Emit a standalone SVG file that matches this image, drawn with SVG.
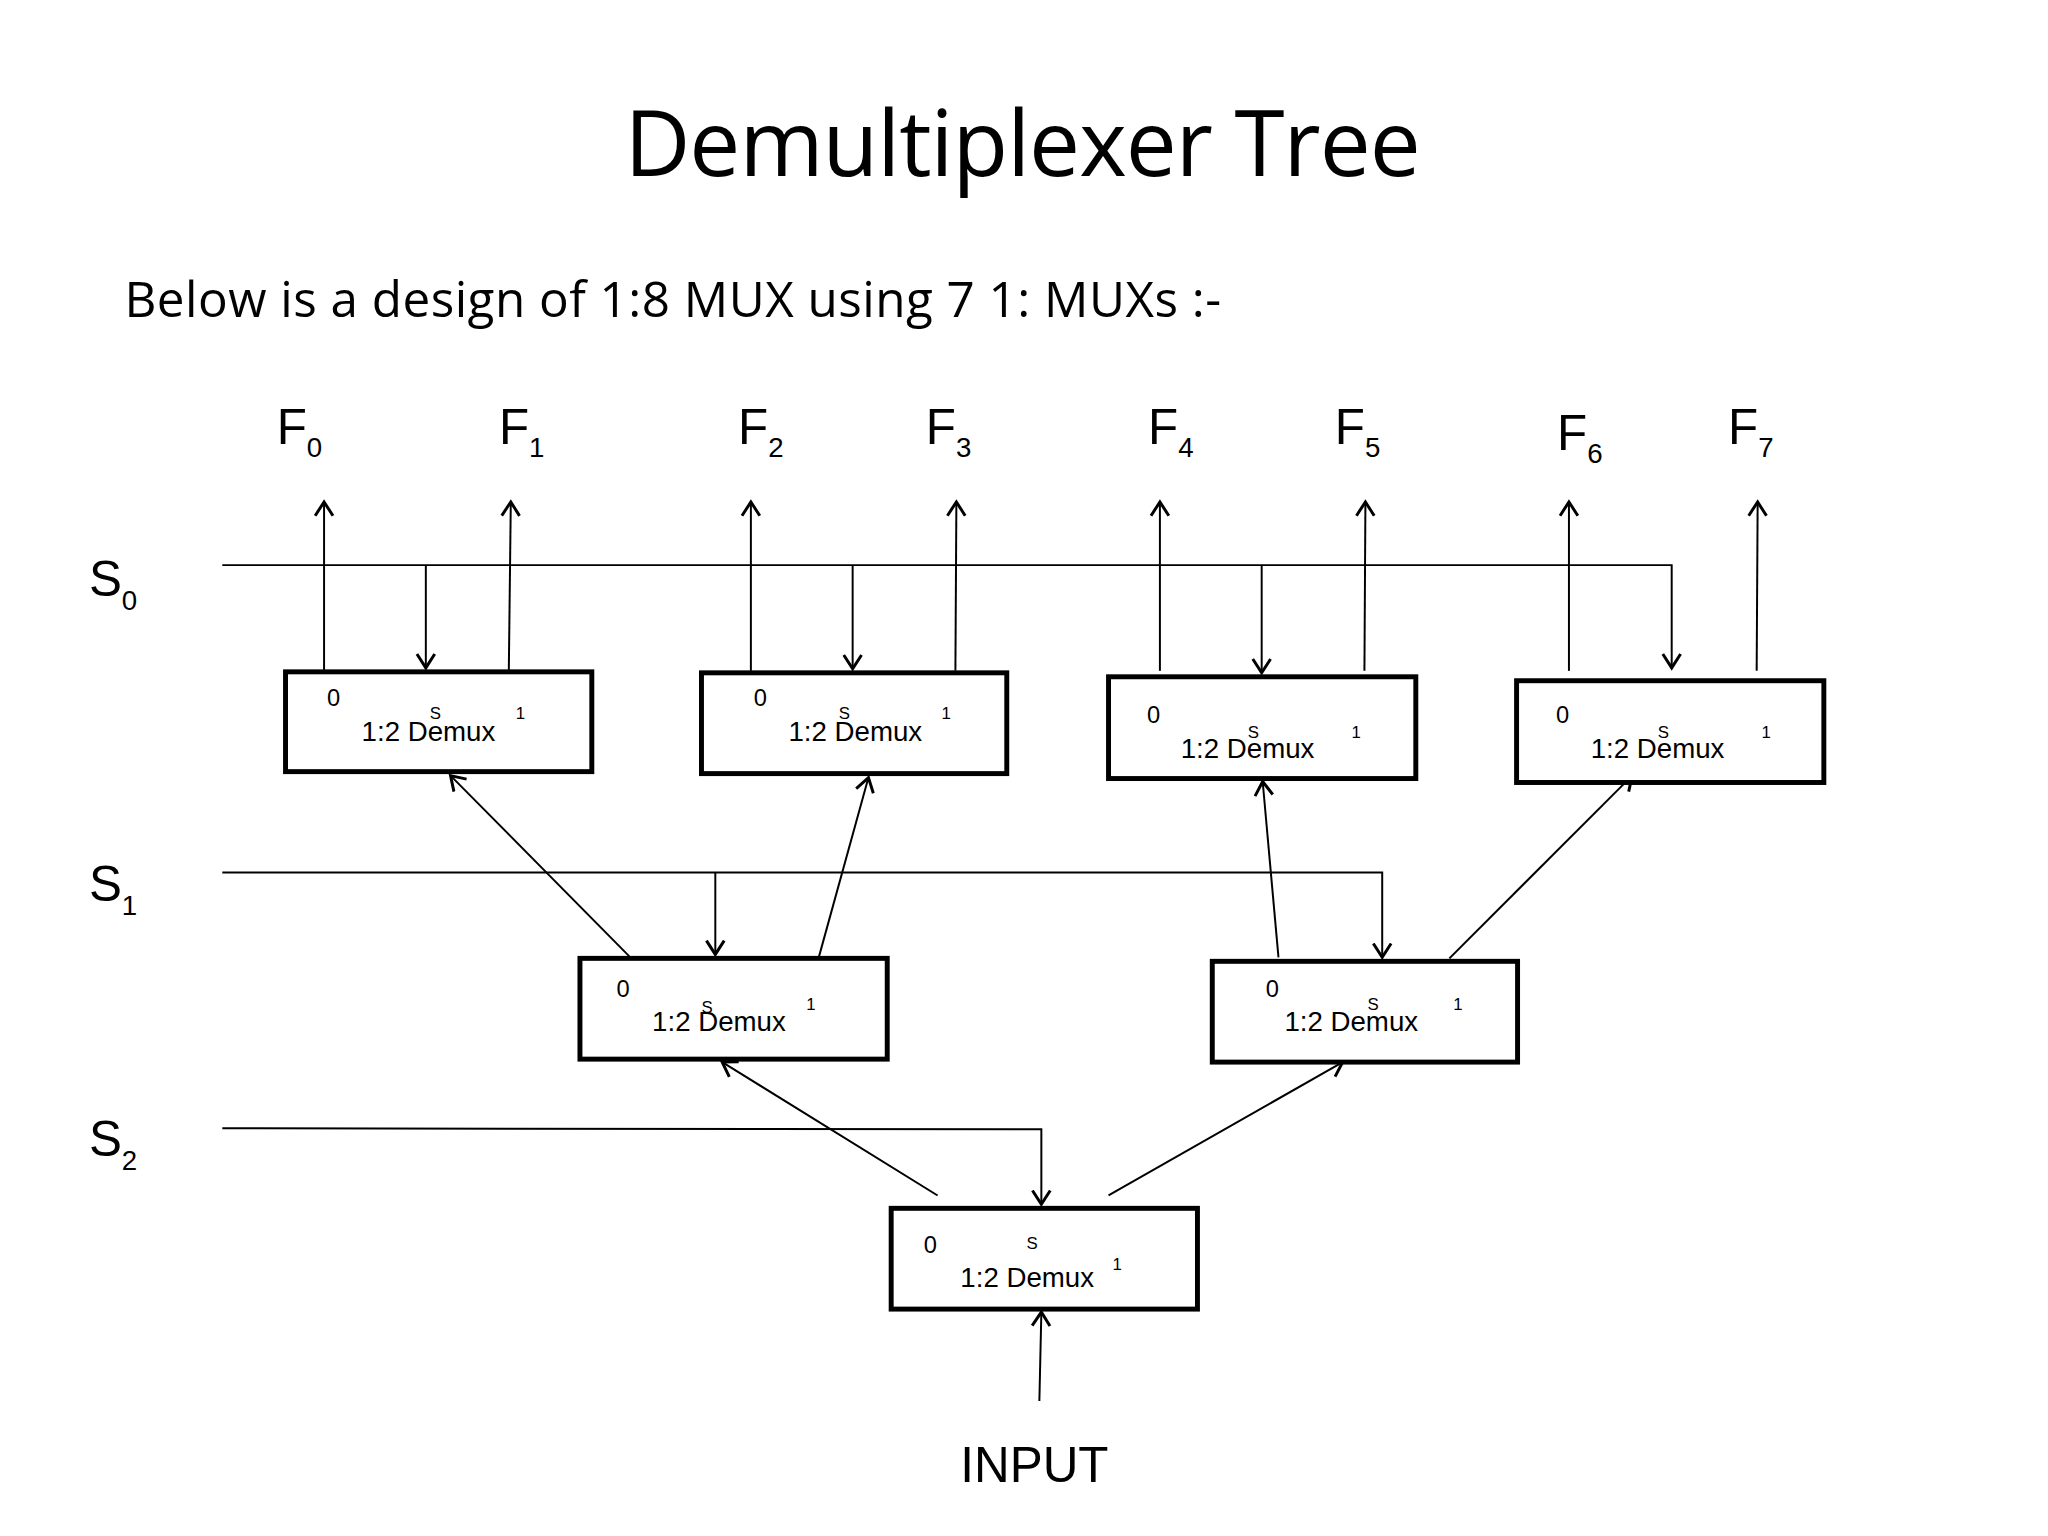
<svg xmlns="http://www.w3.org/2000/svg" width="2048" height="1536" viewBox="0 0 2048 1536">
<style>
.t{font-family:"Liberation Sans",Arial,sans-serif;fill:#000}
.c{font-family:"Open Sans","Liberation Sans",sans-serif;fill:#000}
.box{fill:#fff;stroke:#000;stroke-width:5}
.w{stroke:#000;stroke-width:2;fill:none}
.d{font-size:28px}.z{font-size:24px}.o{font-size:17px}
</style>
<defs><marker id="a" markerUnits="userSpaceOnUse" markerWidth="30" markerHeight="30" refX="0" refY="0" viewBox="-15 -15 30 30" orient="auto"><polyline points="-14,-9 0,0 -14,9" fill="none" stroke="#000" stroke-width="3"/></marker></defs>
<rect width="2048" height="1536" fill="#fff"/>
<g transform="scale(0.988)">
<text class="c" x="1035" y="178" font-size="92" text-anchor="middle" textLength="806">Demultiplexer Tree</text>
<text class="c" x="126" y="321" font-size="50" textLength="1110">Below is a design of 1:8 MUX using 7 1: MUXs :-</text>
<g class="t" font-size="50">
<text x="280" y="449">F<tspan font-size="28" dy="14">0</tspan></text>
<text x="505" y="449">F<tspan font-size="28" dy="14">1</tspan></text>
<text x="747" y="449">F<tspan font-size="28" dy="14">2</tspan></text>
<text x="937" y="449">F<tspan font-size="28" dy="14">3</tspan></text>
<text x="1162" y="449">F<tspan font-size="28" dy="14">4</tspan></text>
<text x="1351" y="449">F<tspan font-size="28" dy="14">5</tspan></text>
<text x="1576" y="455">F<tspan font-size="28" dy="14">6</tspan></text>
<text x="1749" y="449">F<tspan font-size="28" dy="14">7</tspan></text>
<text x="90" y="603">S<tspan font-size="28" dy="14">0</tspan></text>
<text x="90" y="912">S<tspan font-size="28" dy="14">1</tspan></text>
<text x="90" y="1170">S<tspan font-size="28" dy="14">2</tspan></text>
<text x="972" y="1500">INPUT</text>
</g>
<g id="connectors" class="w">
<polyline points="225,572 1692,572 1692,676" marker-end="url(#a)"/>
<line x1="431" y1="572" x2="431" y2="676" marker-end="url(#a)"/>
<line x1="863" y1="572" x2="863" y2="677" marker-end="url(#a)"/>
<line x1="1277" y1="572" x2="1277" y2="681" marker-end="url(#a)"/>
<polyline points="225,883 1399,883 1399,969" marker-end="url(#a)"/>
<line x1="724" y1="883" x2="724" y2="966" marker-end="url(#a)"/>
<polyline points="225,1142 1054,1143 1054,1219" marker-end="url(#a)"/>
<line x1="328" y1="678" x2="328" y2="508" marker-end="url(#a)"/>
<line x1="515" y1="678" x2="517" y2="508" marker-end="url(#a)"/>
<line x1="760" y1="679" x2="760" y2="508" marker-end="url(#a)"/>
<line x1="967" y1="679" x2="968" y2="508" marker-end="url(#a)"/>
<line x1="1174" y1="679" x2="1174" y2="508" marker-end="url(#a)"/>
<line x1="1381" y1="679" x2="1382" y2="508" marker-end="url(#a)"/>
<line x1="1588" y1="679" x2="1588" y2="508" marker-end="url(#a)"/>
<line x1="1778" y1="679" x2="1779" y2="508" marker-end="url(#a)"/>
<line x1="637" y1="968" x2="456" y2="785" marker-end="url(#a)"/>
<line x1="829" y1="968" x2="879" y2="787" marker-end="url(#a)"/>
<line x1="1294" y1="969" x2="1278" y2="791" marker-end="url(#a)"/>
<line x1="1467" y1="970" x2="1652" y2="785" marker-end="url(#a)"/>
<line x1="949" y1="1210" x2="731" y2="1075" marker-end="url(#a)"/>
<line x1="1122" y1="1210" x2="1359" y2="1075" marker-end="url(#a)"/>
<line x1="1052" y1="1418" x2="1054" y2="1328" marker-end="url(#a)"/>
</g>
<g id="b1" class="t"><rect class="box" x="289" y="680" width="310" height="101"/><text class="z" x="331" y="715">0</text><text class="o" x="435" y="728">S</text><text class="d" x="366" y="750">1:2 Demux</text><text class="o" x="522" y="728">1</text></g>
<g id="b2" class="t"><rect class="box" x="710" y="681" width="309" height="102"/><text class="z" x="763" y="715">0</text><text class="o" x="849" y="728">S</text><text class="d" x="798" y="750">1:2 Demux</text><text class="o" x="953" y="728">1</text></g>
<g id="b3" class="t"><rect class="box" x="1122" y="685" width="311" height="103"/><text class="z" x="1161" y="732">0</text><text class="o" x="1263" y="747">S</text><text class="d" x="1195" y="767">1:2 Demux</text><text class="o" x="1368" y="747">1</text></g>
<g id="b4" class="t"><rect class="box" x="1535" y="689" width="311" height="103"/><text class="z" x="1575" y="732">0</text><text class="o" x="1678" y="747">S</text><text class="d" x="1610" y="767">1:2 Demux</text><text class="o" x="1783" y="747">1</text></g>
<g id="b5" class="t"><rect class="box" x="587" y="970" width="311" height="102"/><text class="z" x="624" y="1009">0</text><text class="o" x="710" y="1025">S</text><text class="d" x="660" y="1044">1:2 Demux</text><text class="o" x="816" y="1022">1</text></g>
<g id="b6" class="t"><rect class="box" x="1227" y="973" width="309" height="102"/><text class="z" x="1281" y="1009">0</text><text class="o" x="1384" y="1022">S</text><text class="d" x="1300" y="1044">1:2 Demux</text><text class="o" x="1471" y="1022">1</text></g>
<g id="b7" class="t"><rect class="box" x="902" y="1223" width="310" height="102"/><text class="z" x="935" y="1268">0</text><text class="o" x="1039" y="1264">S</text><text class="d" x="972" y="1303">1:2 Demux</text><text class="o" x="1126" y="1285">1</text></g>
</g>
</svg>
